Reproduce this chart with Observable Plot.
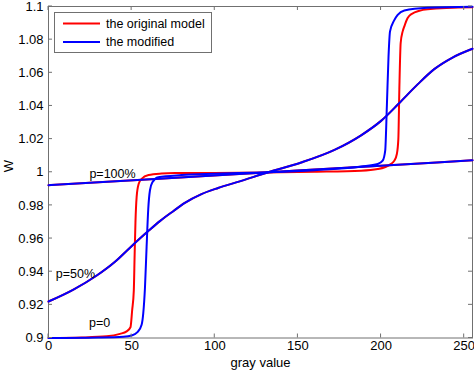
<!DOCTYPE html>
<html><head><meta charset="utf-8">
<script src="https://cdn.jsdelivr.net/npm/d3@7"></script>
<script src="https://cdn.jsdelivr.net/npm/@observablehq/plot@0.6"></script>
<style>body{margin:0;background:#fff} svg{display:block}</style>
</head><body><div id="chart"></div>
<script>
// ---- data ----
const xTicks = [0, 50, 100, 150, 200, 250];
const yTicks = [0.9, 0.92, 0.94, 0.96, 0.98, 1.0, 1.02, 1.04, 1.06, 1.08, 1.1];
const seriesNames = ["the original model", "the modified"];
const seriesColors = ["#ff0000", "#0000ff"];

// p = 100% curve (same in both models)
const xP100 = [0, 64, 128, 192, 255];
const wP100 = [0.9922, 0.9959, 0.9997, 1.0035, 1.0072];

// p = 50% curve (same in both models)
const xP50 = [0, 15, 29, 40, 49, 60, 67, 75, 82, 92, 102, 115, 132, 152, 172, 188, 200, 211, 222, 232, 243, 255];
const wP50 = [0.922, 0.9292, 0.9377, 0.946, 0.9545, 0.9645, 0.9705, 0.9765, 0.9815, 0.9868, 0.9905, 0.9945, 1.0, 1.0059, 1.0135, 1.0223, 1.031, 1.0418, 1.053, 1.0622, 1.0692, 1.0745];

// p = 0, original model (red)
const xRedP0 = [0, 20, 35, 43, 47, 49.3, 50.3, 51.3, 51.8, 52.3, 53, 54.2, 56, 60.2, 68, 76, 100, 130, 160, 188, 198, 205.8, 208, 209.5, 210.4, 211, 211.8, 213, 214, 216, 218, 228, 255];
const wRedP0 = [0.9, 0.9003, 0.901, 0.9025, 0.904, 0.9065, 0.9166, 0.9286, 0.95, 0.97, 0.985, 0.9929, 0.996, 0.9983, 0.9992, 0.9995, 0.9996, 0.9999, 1.0003, 1.0009, 1.0019, 1.0049, 1.007, 1.011, 1.02, 1.05, 1.078, 1.085, 1.088, 1.093, 1.0953, 1.0983, 1.0995];

// p = 0, modified model (blue)
const xBlueP0 = [0, 30, 45, 50, 53.5, 56, 57, 58, 59, 60, 61, 62.5, 66, 80, 100, 130, 160, 188, 198, 201, 202.5, 203.5, 204.5, 205.4, 207.8, 210, 214, 228, 255];
const wBlueP0 = [0.9, 0.9003, 0.9008, 0.9015, 0.9035, 0.908, 0.915, 0.93, 0.955, 0.978, 0.989, 0.994, 0.997, 0.9983, 0.9991, 0.9999, 1.0012, 1.0035, 1.005, 1.007, 1.013, 1.04, 1.07, 1.085, 1.0915, 1.095, 1.0976, 1.0992, 1.0998];

// annotations (data units)
const annText = ["p=100%", "p=50%", "p=0"];
const annX = [38.5, 16.2, 30.8];
const annW = [0.9989, 0.9389, 0.909];

// ---- build ----
const rows = (xs, ws) => xs.map((x, i) => ({x, w: ws[i]}));
const annRows = annText.map((t, i) => ({t, x: annX[i], w: annW[i]}));
const lineOpts = (color) => ({x: "x", y: "w", stroke: color, strokeWidth: 2, curve: "monotone-x"});

const plot = Plot.plot({
  width: 474, height: 373,
  marginLeft: 48, marginRight: 2, marginTop: 6, marginBottom: 35.5,
  style: {fontFamily: "'Liberation Sans', Arial, Helvetica, sans-serif", fontSize: "13px", background: "#fff", color: "#000"},
  x: {domain: [0, 255]},
  y: {domain: [0.9, 1.1]},
  marks: [
    Plot.frame({stroke: "#707070"}),
    Plot.axisX({ticks: xTicks, tickSize: 0, tickPadding: 3, label: null}),
    Plot.axisY({ticks: yTicks, tickSize: 0, tickPadding: 5, label: null, tickFormat: d => String(+d.toFixed(2))}),
    Plot.line(rows(xP100, wP100), lineOpts(seriesColors[0])),
    Plot.line(rows(xP50, wP50), lineOpts(seriesColors[0])),
    Plot.line(rows(xRedP0, wRedP0), lineOpts(seriesColors[0])),
    Plot.line(rows(xP100, wP100), lineOpts(seriesColors[1])),
    Plot.line(rows(xP50, wP50), lineOpts(seriesColors[1])),
    Plot.line(rows(xBlueP0, wBlueP0), lineOpts(seriesColors[1])),
    Plot.text(annRows, {x: "x", y: "w", text: "t", fill: "#000", lineAnchor: "middle", fontSize: 12.5}),
    Plot.text(["gray value"], {frameAnchor: "bottom", dy: 25, lineAnchor: "middle", fill: "#000"}),
    Plot.text(["W"], {frameAnchor: "left", dx: -40, rotate: -90, lineAnchor: "middle", fill: "#000"})
  ]
});

// inward ticks on all four sides, placed with Plot's scales
const sx = plot.scale("x"), sy = plot.scale("y");
const root = d3.select(plot);
const L = 48, R = 474 - 2, T = 6, B = 373 - 35.5, tl = 4;
const g = root.append("g").attr("stroke", "#707070").attr("stroke-width", 1);
xTicks.forEach(v => {
  const px = sx.apply(v);
  g.append("line").attr("x1", px).attr("x2", px).attr("y1", B).attr("y2", B - tl);
  g.append("line").attr("x1", px).attr("x2", px).attr("y1", T).attr("y2", T + tl);
});
yTicks.forEach(v => {
  const py = sy.apply(v);
  g.append("line").attr("x1", L).attr("x2", L + tl).attr("y1", py).attr("y2", py);
  g.append("line").attr("x1", R).attr("x2", R - tl).attr("y1", py).attr("y2", py);
});

// legend box (inside the plot, upper-left)
const lg = root.append("g")
  .attr("font-family", "'Liberation Sans', Arial, sans-serif")
  .attr("font-size", "12.5px")
  .attr("text-anchor", "start");
lg.append("rect").attr("x", 54.5).attr("y", 12.5).attr("width", 157).attr("height", 40)
  .attr("fill", "#fff").attr("stroke", "#707070").attr("stroke-width", 1);
seriesNames.forEach((name, i) => {
  const cy = 23.5 + i * 18.5;
  lg.append("line").attr("x1", 63).attr("x2", 100).attr("y1", cy).attr("y2", cy)
    .attr("stroke", seriesColors[i]).attr("stroke-width", 2);
  lg.append("text").attr("x", 106).attr("y", cy).attr("dy", "0.35em")
    .attr("text-anchor", "start").attr("fill", "#000").text(name);
});

document.getElementById("chart").appendChild(plot);
</script>
</body></html>
